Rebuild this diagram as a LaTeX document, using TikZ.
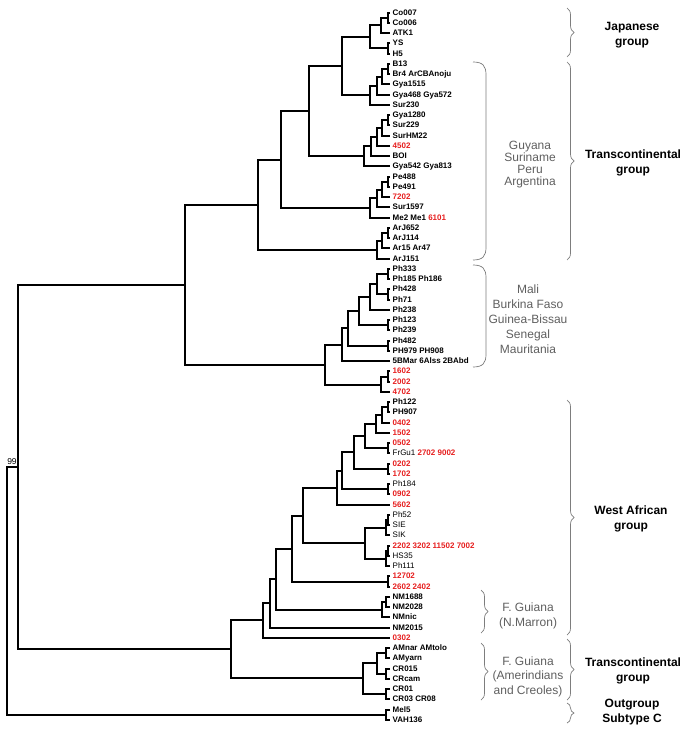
\documentclass[tikz,border=0pt]{standalone}
\usepackage{fontspec}
\setmainfont{Liberation Sans}
\usetikzlibrary{decorations.pathreplacing}
\definecolor{rojo}{RGB}{230, 30, 30}
\definecolor{gris}{RGB}{125, 125, 125}
\definecolor{grisosc}{RGB}{95, 95, 95}
\tikzset{
    hoja/.style={anchor=west, inner xsep=2.5pt, inner ysep=0pt, text height=5.8pt, text depth=0pt, font=\fontsize{8}{9}\selectfont\bfseries},
    hojaf/.style={hoja, font=\fontsize{8}{9}\selectfont},
    rama/.style={draw, line width=2pt},
    grp/.style={align=center, font=\fontsize{12}{15}\selectfont\bfseries},
    reg/.style={align=center, text=grisosc, font=\fontsize{12}{15}\selectfont},
    llave/.style={decorate, decoration={brace, amplitude=7pt}, draw=gris, line width=0.7pt},
    paren/.style={draw=gris, line width=0.7pt},
}
\begin{document}
\begin{tikzpicture}[x=1pt, y=-1pt]
        \useasboundingbox (0,0) rectangle (685,735);

        % leaves
        \node[hoja] (Co007) at (390,13) {Co007};
        \node[hoja] (Co006) at (390,23) {Co006};
        \node[hoja] (ATK1) at (390,33) {ATK1};
        \node[hoja] (YS) at (390,43) {YS};
        \node[hoja] (H5) at (390,54) {H5};
        \node[hoja] (B13) at (390,64) {B13};
        \node[hoja] (Br4) at (390,74) {Br4 ArCBAnoju};
        \node[hoja] (Gya1515) at (390,84) {Gya1515};
        \node[hoja] (Gya468) at (390,95) {Gya468 Gya572};
        \node[hoja] (Sur230) at (390,105) {Sur230};
        \node[hoja] (Gya1280) at (390,115) {Gya1280};
        \node[hoja] (Sur229) at (390,125) {Sur229};
        \node[hoja] (SurHM22) at (390,136) {SurHM22};
        \node[hoja, text=rojo] (s4502) at (390,146) {4502};
        \node[hoja] (BOI) at (390,156) {BOI};
        \node[hoja] (Gya542) at (390,166) {Gya542 Gya813};
        \node[hoja] (Pe488) at (390,177) {Pe488};
        \node[hoja] (Pe491) at (390,187) {Pe491};
        \node[hoja, text=rojo] (s7202) at (390,197) {7202};
        \node[hoja] (Sur1597) at (390,207) {Sur1597};
        \node[hoja] (Me2) at (390,218) {Me2 Me1 \textcolor{rojo}{6101}};
        \node[hoja] (ArJ652) at (390,228) {ArJ652};
        \node[hoja] (ArJ114) at (390,238) {ArJ114};
        \node[hoja] (Ar15) at (390,248) {Ar15 Ar47};
        \node[hoja] (ArJ151) at (390,259) {ArJ151};
        \node[hoja] (Ph333) at (390,269) {Ph333};
        \node[hoja] (Ph185) at (390,279) {Ph185 Ph186};
        \node[hoja] (Ph428) at (390,289) {Ph428};
        \node[hoja] (Ph71) at (390,300) {Ph71};
        \node[hoja] (Ph238) at (390,310) {Ph238};
        \node[hoja] (Ph123) at (390,320) {Ph123};
        \node[hoja] (Ph239) at (390,330) {Ph239};
        \node[hoja] (Ph482) at (390,341) {Ph482};
        \node[hoja] (PH979) at (390,351) {PH979 PH908};
        \node[hoja] (BMar) at (390,361) {5BMar 6Alss 2BAbd};
        \node[hoja, text=rojo] (s1602) at (390,371) {1602};
        \node[hoja, text=rojo] (s2002) at (390,382) {2002};
        \node[hoja, text=rojo] (s4702) at (390,392) {4702};
        \node[hoja] (Ph122) at (390,402) {Ph122};
        \node[hoja] (PH907) at (390,412) {PH907};
        \node[hoja, text=rojo] (s0402) at (390,423) {0402};
        \node[hoja, text=rojo] (s1502) at (390,433) {1502};
        \node[hoja, text=rojo] (s0502) at (390,443) {0502};
        \node[hojaf] (FrGu1) at (390,453) {FrGu1 \textcolor{rojo}{\bfseries 2702 9002}};
        \node[hoja, text=rojo] (s0202) at (390,464) {0202};
        \node[hoja, text=rojo] (s1702) at (390,474) {1702};
        \node[hojaf] (Ph184) at (390,484) {Ph184};
        \node[hoja, text=rojo] (s0902) at (390,494) {0902};
        \node[hoja, text=rojo] (s5602) at (390,505) {5602};
        \node[hojaf] (Ph52) at (390,515) {Ph52};
        \node[hojaf] (SIE) at (390,525) {SIE};
        \node[hojaf] (SIK) at (390,535) {SIK};
        \node[hoja, text=rojo] (s2202) at (390,546) {2202 3202 11502 7002};
        \node[hojaf] (HS35) at (390,556) {HS35};
        \node[hojaf] (Ph111) at (390,566) {Ph111};
        \node[hoja, text=rojo] (s12702) at (390,576) {12702};
        \node[hoja, text=rojo] (s2602) at (390,587) {2602 2402};
        \node[hoja] (NM1688) at (390,597) {NM1688};
        \node[hoja] (NM2028) at (390,607) {NM2028};
        \node[hoja] (NMnic) at (390,617) {NMnic};
        \node[hoja] (NM2015) at (390,628) {NM2015};
        \node[hoja, text=rojo] (s0302) at (390,638) {0302};
        \node[hoja] (AMnar) at (390,648) {AMnar AMtolo};
        \node[hoja] (AMyarn) at (390,658) {AMyarn};
        \node[hoja] (CR015) at (390,669) {CR015};
        \node[hoja] (CRcam) at (390,679) {CRcam};
        \node[hoja] (CR01) at (390,689) {CR01};
        \node[hoja] (CR03) at (390,699) {CR03 CR08};
        \node[hoja] (Mel5) at (390,710) {Mel5};
        \node[hoja] (VAH136) at (390,720) {VAH136};

        % internal nodes
        \coordinate (jA) at (388,18);
        \coordinate (jB) at (381,25);
        \coordinate (jC) at (388,48);
        \coordinate (jap) at (370,37);
        \coordinate (bA) at (388,69);
        \coordinate (bB) at (382,77);
        \coordinate (bC) at (377,86);
        \coordinate (bD) at (370,95);
        \coordinate (jb) at (342,66);
        \coordinate (gA) at (388,120);
        \coordinate (gB) at (382,128);
        \coordinate (gC) at (377,137);
        \coordinate (gD) at (371,146);
        \coordinate (gE) at (364,156);
        \coordinate (jbg) at (309,111);
        \coordinate (pA) at (388,182);
        \coordinate (pB) at (382,190);
        \coordinate (pC) at (377,198);
        \coordinate (pD) at (370,208);
        \coordinate (guy) at (281,160);
        \coordinate (aA) at (388,233);
        \coordinate (aB) at (382,241);
        \coordinate (aC) at (377,250);
        \coordinate (trans) at (258,205);
        \coordinate (mA) at (388,274);
        \coordinate (mB) at (388,294);
        \coordinate (mC) at (377,284);
        \coordinate (mD) at (370,297);
        \coordinate (mE) at (388,325);
        \coordinate (mF) at (359,311);
        \coordinate (mG) at (388,346);
        \coordinate (mH) at (348,328);
        \coordinate (mali) at (342,345);
        \coordinate (rA) at (388,377);
        \coordinate (rB) at (381,385);
        \coordinate (afr) at (325,365);
        \coordinate (up) at (185,285);
        \coordinate (wA) at (388,407);
        \coordinate (wB) at (382,415);
        \coordinate (wC) at (376,424);
        \coordinate (wD) at (388,448);
        \coordinate (wE) at (365,436);
        \coordinate (wF) at (388,469);
        \coordinate (wG) at (354,452);
        \coordinate (wH) at (388,489);
        \coordinate (wI) at (342,471);
        \coordinate (wJ) at (337,488);
        \coordinate (sA) at (388,520);
        \coordinate (sB) at (386,528);
        \coordinate (sC) at (388,551);
        \coordinate (sD) at (386,559);
        \coordinate (sE) at (365,543);
        \coordinate (wK) at (303,516);
        \coordinate (tA) at (388,582);
        \coordinate (wa) at (292,549);
        \coordinate (nA) at (386,602);
        \coordinate (nB) at (382,610);
        \coordinate (wn) at (276,579);
        \coordinate (wn2) at (270,603);
        \coordinate (wn3) at (263,620);
        \coordinate (cA) at (386,653);
        \coordinate (cB) at (386,674);
        \coordinate (cC) at (377,663);
        \coordinate (cD) at (386,694);
        \coordinate (cE) at (363,678);
        \coordinate (low) at (231,649);
        \coordinate (ing) at (18,467);
        \coordinate (oA) at (386,715);
        \coordinate (root) at (7,591);

        % branches
        \draw[rama] (Co007.west) -| (jA) |- (Co006.west);
        \draw[rama] (jA) -| (jB) |- (ATK1.west);
        \draw[rama] (YS.west) -| (jC) |- (H5.west);
        \draw[rama] (jB) -| (jap) |- (jC);

        \draw[rama] (B13.west) -| (bA) |- (Br4.west);
        \draw[rama] (bA) -| (bB) |- (Gya1515.west);
        \draw[rama] (bB) -| (bC) |- (Gya468.west);
        \draw[rama] (bC) -| (bD) |- (Sur230.west);
        \draw[rama] (jap) -| (jb) |- (bD);

        \draw[rama] (Gya1280.west) -| (gA) |- (Sur229.west);
        \draw[rama] (gA) -| (gB) |- (SurHM22.west);
        \draw[rama] (gB) -| (gC) |- (s4502.west);
        \draw[rama] (gC) -| (gD) |- (BOI.west);
        \draw[rama] (gD) -| (gE) |- (Gya542.west);
        \draw[rama] (jb) -| (jbg) |- (gE);

        \draw[rama] (Pe488.west) -| (pA) |- (Pe491.west);
        \draw[rama] (pA) -| (pB) |- (s7202.west);
        \draw[rama] (pB) -| (pC) |- (Sur1597.west);
        \draw[rama] (pC) -| (pD) |- (Me2.west);
        \draw[rama] (jbg) -| (guy) |- (pD);

        \draw[rama] (ArJ652.west) -| (aA) |- (ArJ114.west);
        \draw[rama] (aA) -| (aB) |- (Ar15.west);
        \draw[rama] (aB) -| (aC) |- (ArJ151.west);
        \draw[rama] (guy) -| (trans) |- (aC);

        \draw[rama] (Ph333.west) -| (mA) |- (Ph185.west);
        \draw[rama] (Ph428.west) -| (mB) |- (Ph71.west);
        \draw[rama] (mA) -| (mC) |- (mB);
        \draw[rama] (mC) -| (mD) |- (Ph238.west);
        \draw[rama] (Ph123.west) -| (mE) |- (Ph239.west);
        \draw[rama] (mD) -| (mF) |- (mE);
        \draw[rama] (Ph482.west) -| (mG) |- (PH979.west);
        \draw[rama] (mF) -| (mH) |- (mG);
        \draw[rama] (mH) -| (mali) |- (BMar.west);
        \draw[rama] (s1602.west) -| (rA) |- (s2002.west);
        \draw[rama] (rA) -| (rB) |- (s4702.west);
        \draw[rama] (mali) -| (afr) |- (rB);
        \draw[rama] (trans) -| (up) |- (afr);

        \draw[rama] (Ph122.west) -| (wA) |- (PH907.west);
        \draw[rama] (wA) -| (wB) |- (s0402.west);
        \draw[rama] (wB) -| (wC) |- (s1502.west);
        \draw[rama] (s0502.west) -| (wD) |- (FrGu1.west);
        \draw[rama] (wC) -| (wE) |- (wD);
        \draw[rama] (s0202.west) -| (wF) |- (s1702.west);
        \draw[rama] (wE) -| (wG) |- (wF);
        \draw[rama] (Ph184.west) -| (wH) |- (s0902.west);
        \draw[rama] (wG) -| (wI) |- (wH);
        \draw[rama] (wI) -| (wJ) |- (s5602.west);
        \draw[rama] (Ph52.west) -| (sA) |- (SIE.west);
        \draw[rama] (sA) -| (sB) |- (SIK.west);
        \draw[rama] (s2202.west) -| (sC) |- (HS35.west);
        \draw[rama] (sC) -| (sD) |- (Ph111.west);
        \draw[rama] (sB) -| (sE) |- (sD);
        \draw[rama] (wJ) -| (wK) |- (sE);
        \draw[rama] (s12702.west) -| (tA) |- (s2602.west);
        \draw[rama] (wK) -| (wa) |- (tA);

        \draw[rama] (NM1688.west) -| (nA) |- (NM2028.west);
        \draw[rama] (nA) -| (nB) |- (NMnic.west);
        \draw[rama] (wa) -| (wn) |- (nB);
        \draw[rama] (wn) -| (wn2) |- (NM2015.west);
        \draw[rama] (wn2) -| (wn3) |- (s0302.west);

        \draw[rama] (AMnar.west) -| (cA) |- (AMyarn.west);
        \draw[rama] (CR015.west) -| (cB) |- (CRcam.west);
        \draw[rama] (cA) -| (cC) |- (cB);
        \draw[rama] (CR01.west) -| (cD) |- (CR03.west);
        \draw[rama] (cC) -| (cE) |- (cD);
        \draw[rama] (wn3) -| (low) |- (cE);

        \draw[rama] (up) -| (ing) |- (low);
        \draw[rama] (Mel5.west) -| (oA) |- (VAH136.west);
        \draw[rama] (ing) -| (root) |- (oA);

        \node[font=\fontsize{8.5}{10}\selectfont, inner sep=0pt] (b99) at (12,462) {99};

        % brackets
        \draw[paren] (473,62) .. controls (483,62) and (486,66) .. (486,75) -- (486,247) .. controls (486,256) and (483,260) .. (473,260);
        \draw[paren] (473,265) .. controls (483,265) and (486,269) .. (486,278) -- (486,354) .. controls (486,363) and (483,367) .. (473,367);
        \draw[llave] (481,590) -- (481,633);
        \draw[llave] (481,643) -- (481,700);

        \draw[llave] (567,8) -- (567,57);
        \draw[llave] (567,62) -- (567,260);
        \draw[llave] (567,400) -- (567,635);
        \draw[llave] (567,639) -- (567,700);
        \draw[llave] (567,703) -- (567,723);

        % labels
        \node[reg, font=\fontsize{12}{12}\selectfont] (guya) at (530,165) {Guyana\\Suriname\\Peru\\Argentina};
        \node[reg] (malit) at (528,319) {Mali\\Burkina Faso\\Guinea-Bissau\\Senegal\\Mauritania};
        \node[reg] (nmar) at (528,615.5) {F. Guiana\\(N.Marron)};
        \node[reg, font=\fontsize{12}{14.5}\selectfont] (amer) at (528,676.5) {F. Guiana\\(Amerindians\\and Creoles)};

        \node[grp] (japo) at (632,35.5) {Japanese\\group};
        \node[grp] (tra1) at (633,163) {Transcontinental\\group};
        \node[grp] (wafr) at (631,518.5) {West African\\group};
        \node[grp] (tra2) at (633,671) {Transcontinental\\group};
        \node[grp] (outg) at (632,712.5) {Outgroup\\Subtype C};
\end{tikzpicture}
\end{document}
